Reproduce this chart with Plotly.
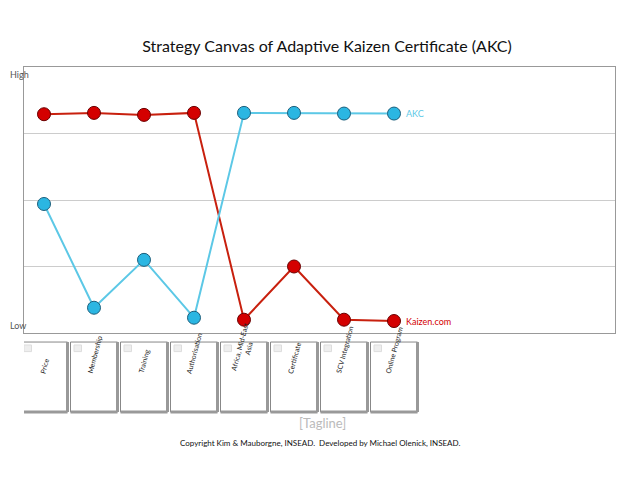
import plotly.graph_objects as go

factors = ["Price", "Membership", "Training", "Authorisation", "Africa, Mid-East,<br>Asia",
           "Certificate", "SCV Integration", "Online Program"]
kaizen = [3.29, 3.31, 3.28, 3.31, 0.2, 1.0, 0.2, 0.18]
akc = [1.94, 0.38, 1.1, 0.23, 3.31, 3.31, 3.3, 3.3]
xs = list(range(len(factors)))

RED = "#d40000"
BLUE = "#2bb6e2"

fig = go.Figure()
fig.add_trace(go.Scatter(x=xs, y=kaizen, mode="lines+markers", name="Kaizen.com",
                         line=dict(color="#c8200e", width=2),
                         marker=dict(size=13, color=RED, line=dict(color="#6a0000", width=1))))
fig.add_trace(go.Scatter(x=xs, y=akc, mode="lines+markers", name="AKC",
                         line=dict(color="#5cc8e6", width=2),
                         marker=dict(size=13, color=BLUE, line=dict(color="#1d5f7c", width=1))))

ann = [
    dict(x=xs[-1] + 0.2, y=akc[-1], text="AKC", xanchor="left", showarrow=False,
         font=dict(size=9, color="#5cc8e6")),
    dict(x=xs[-1] + 0.2, y=kaizen[-1], text="Kaizen.com", xanchor="left", showarrow=False,
         font=dict(size=9, color=RED)),
    dict(x=-0.027, y=1.0, xref="paper", yref="paper", text="High", showarrow=False,
         xanchor="left", yanchor="top", font=dict(size=9, color="#555")),
    dict(x=-0.027, y=0.0, xref="paper", yref="paper", text="Low", showarrow=False,
         xanchor="left", yanchor="bottom", font=dict(size=9, color="#555")),
]
shapes = []
for i, f in enumerate(factors):
    shapes.append(dict(type="rect", xref="x", yref="paper", x0=i - 0.47, x1=i + 0.47,
                       y0=-0.297, y1=-0.034, line=dict(color="#888", width=1),
                       fillcolor="white"))
    shapes.append(dict(type="line", xref="x", yref="paper", x0=i + 0.47, x1=i + 0.47,
                       y0=-0.297, y1=-0.034, line=dict(color="#999", width=3)))
    shapes.append(dict(type="line", xref="x", yref="paper", x0=i - 0.47, x1=i + 0.47,
                       y0=-0.297, y1=-0.297, line=dict(color="#999", width=3)))
    shapes.append(dict(type="rect", xref="x", yref="paper", x0=i - 0.4, x1=i - 0.25,
                       y0=-0.07, y1=-0.045, line=dict(color="#ddd", width=1),
                       fillcolor="#eee"))
    ann.append(dict(x=i, y=-0.165, xref="x", yref="paper", text=f, textangle=-75,
                    showarrow=False, font=dict(size=7, color="#222")))

ann.append(dict(x=0.505, y=-0.375, xref="paper", yref="paper", text="[Tagline]",
                showarrow=False, font=dict(size=13, color="#bbb")))
ann.append(dict(x=0.5, y=-0.44, xref="paper", yref="paper",
                text="Copyright Kim & Mauborgne, INSEAD.  Developed by Michael Olenick, INSEAD.",
                showarrow=False, font=dict(size=8, color="#111")))

fig.update_layout(
    width=638, height=478, plot_bgcolor="white", paper_bgcolor="white",
    font=dict(family="Lato, Open Sans, sans-serif"),
    title=dict(text="Strategy Canvas of Adaptive Kaizen Certificate (AKC)", x=0.5, y=0.932,
               xanchor="center", font=dict(size=16, color="#111")),
    margin=dict(l=16, r=31, t=59, b=153), showlegend=False,
    annotations=ann, shapes=shapes,
    xaxis=dict(range=[-0.4, 11.42], showgrid=False, zeroline=False, showticklabels=False,
               showline=True, linecolor="#999", mirror=True),
    yaxis=dict(range=[0, 4], dtick=1, showgrid=True, gridcolor="#ccc", zeroline=False,
               showticklabels=False, showline=True, linecolor="#999", mirror=True),
)
fig.write_html("out.html")
